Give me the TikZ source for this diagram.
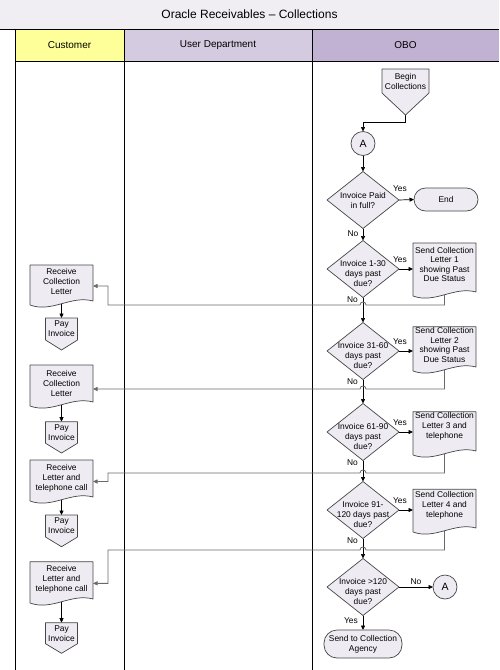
\documentclass[tikz,border=0pt]{standalone}
\usepackage{fontspec}
\setmainfont{Liberation Sans}
\usetikzlibrary{arrows.meta,calc,shapes.geometric}
\pgfdeclarelayer{lanes}
\pgfdeclarelayer{conn}
\pgfdeclarelayer{shapes}
\pgfsetlayers{lanes,conn,shapes,main}

\definecolor{titlebg}{RGB}{240,238,243}
\definecolor{custbg}{RGB}{255,255,153}
\definecolor{udbg}{RGB}{212,203,224}
\definecolor{obobg}{RGB}{193,178,211}
\definecolor{shpfill}{RGB}{238,236,242}
\definecolor{shpline}{RGB}{70,70,70}
\definecolor{xline}{RGB}{105,105,105}

\tikzset{
  every node/.style={font=\fontsize{8.4}{10}\selectfont, inner sep=0pt, outer sep=0pt},
  shp/.style={fill=shpfill, draw=shpline, line width=0.7pt, line join=round},
  box/.style={rectangle, draw=none, fill=none, anchor=north},
  txt/.style={align=center},
  txtS/.style={align=center, font=\fontsize{8.4}{9.6}\selectfont},
  dia/.style={diamond, shp, minimum width=72pt, minimum height=57pt},
  termA/.style={rectangle, shp, rounded corners=11.5pt, minimum width=64pt, minimum height=23pt},
  termB/.style={rectangle, shp, rounded corners=13pt, minimum width=78pt, minimum height=28pt, align=center},
  conc/.style={circle, shp, minimum size=24pt, font=\fontsize{10.5}{12}\selectfont},
  flow/.style={draw=black, line width=0.7pt, -{Triangle[length=4.5pt,width=4pt]}},
  xflow/.style={draw=xline, line width=0.8pt, -{Triangle[length=4.5pt,width=4pt]}},
  lab/.style={font=\fontsize{8.4}{10}\selectfont},
  lane/.style={draw=black, line width=1pt},
  hdr/.style={font=\fontsize{10}{12}\selectfont},
}

% document shape: name, cx, top, w, h, text shift, text, text style
\newcommand\docnode[8]{%
  \node[box, minimum width=#4pt, minimum height=#5pt] (#1) at (#2,#3) {};
  \node[#8] (#1t) at ($(#1.center)+(0,#6)$) {#7};
  \begin{pgfonlayer}{shapes}
  \path[shp] (#1.north west) -- (#1.north east) -- ($(#1.south east)+(0,-6)$)
    .. controls ($(#1.south west)!0.65!(#1.south east)+(0,-12)$)
    and ($(#1.south west)!0.35!(#1.south east)+(0,6)$)
    .. ($(#1.south west)+(0,-2)$) -- cycle;
  \end{pgfonlayer}}

% off-page shape: name, cx, top, w, rect h, tip depth, text
\newcommand\offpage[7]{%
  \node[box, minimum width=#4pt, minimum height=#5pt] (#1) at (#2,#3) {};
  \node[txt] (#1t) at (#1.center) {#7};
  \coordinate (#1-tip) at ($(#1.south)+(0,#6)$);
  \begin{pgfonlayer}{shapes}
  \path[shp] (#1.north west) -- (#1.north east) -- (#1.south east) -- (#1-tip)
    -- (#1.south west) -- cycle;
  \end{pgfonlayer}}

\begin{document}
\begin{tikzpicture}[x=1pt, y=-1pt]
\useasboundingbox (0,0) rectangle (499,670);

% ---------- lanes ----------
\begin{pgfonlayer}{lanes}
  \fill[titlebg] (0,0) rectangle (499,29.5);
  \fill[custbg] (15,29.5) rectangle (124,61);
  \fill[udbg] (124,29.5) rectangle (312,61);
  \fill[obobg] (312,29.5) rectangle (499,61);
  \draw[line width=1.6pt] (0,29.5) -- (499,29.5);
  \draw[lane] (15,61) -- (499,61);
  \draw[lane] (15,29.5) -- (15,670);
  \draw[lane] (124,29.5) -- (124,670);
  \draw[lane] (312,29.5) -- (312,670);
\end{pgfonlayer}

\node[font=\fontsize{12}{14}\selectfont] (title) at (249.5,14) {Oracle Receivables – Collections};
\node[hdr] (hcust) at (69.5,45.5) {Customer};
\node[hdr] (hud) at (218,45.5) {User Department};
\node[hdr] (hobo) at (405.5,45.5) {OBO};

% ---------- OBO lane ----------
\offpage{begin}{405.5}{69}{47}{24}{22}{Begin\\Collections}
\node[conc] (A1) at (363,143.5) {A};

\node[dia] (D1) at (363,200) {};
\node[txt] (D1t) at (363,200.5) {Invoice Paid\\in full?};
\node[termA] (End) at (446,199.5) {End};

\node[dia] (D2) at (363,269) {};
\node[txt] (D2t) at (363,273) {Invoice 1-30\\days past\\due?};
\docnode{S1}{444.5}{243}{63}{55}{-6}{Send Collection\\Letter 1\\showing Past\\Due Status}{txtS}

\node[dia] (D3) at (363,351) {};
\node[txt] (D3t) at (363,355) {Invoice 31-60\\days past\\due?};
\docnode{S2}{444.5}{326.7}{63}{46.3}{-5}{Send Collection\\Letter 2\\showing Past\\Due Status}{txtS}

\node[dia] (D4) at (363,432) {};
\node[txt] (D4t) at (363,436) {Invoice 61-90\\days past\\due?};
\docnode{S3}{444.5}{411.7}{63}{45.3}{-8}{Send Collection\\Letter 3 and\\telephone}{txt}

\node[dia] (D5) at (363,510) {};
\node[txt] (D5t) at (363,514) {Invoice 91-\\120 days past\\due?};
\docnode{S4}{444.5}{489.3}{63}{44.7}{-6.5}{Send Collection\\Letter 4 and\\telephone}{txt}

\node[dia] (D6) at (363,587) {};
\node[txt] (D6t) at (363,591.5) {Invoice >120\\days past\\due?};
\node[conc] (A2) at (445,587) {A};
\node[termB] (Agency) at (363,644) {Send to Collection\\Agency};

% ---------- Customer lane ----------
\docnode{R1}{61.5}{265}{63}{42}{-4.5}{Receive\\Collection\\Letter}{txt}
\offpage{P1}{61.5}{318}{32}{22}{10}{Pay\\Invoice}
\docnode{R2}{61.5}{365}{63}{43}{-3}{Receive\\Collection\\Letter}{txt}
\offpage{P2}{61.5}{421.7}{32}{21.5}{9.8}{Pay\\Invoice}
\docnode{R3}{61.5}{460}{63}{43}{-3.5}{Receive\\Letter and\\telephone call}{txt}
\offpage{P3}{61.5}{515}{32}{22}{9.7}{Pay\\Invoice}
\docnode{R4}{61.5}{561.7}{63}{43.3}{-4.4}{Receive\\Letter and\\telephone call}{txt}
\offpage{P4}{61.5}{622.7}{32}{21}{9.6}{Pay\\Invoice}

% ---------- labels ----------
\node[lab] (y1) at ($(D1.east)+(1,-11.5)$) {Yes};
\node[lab] (n1) at ($(D1.south)+(-10,5)$) {No};
\node[lab] (y2) at ($(D2.east)+(1,-9)$) {Yes};
\node[lab] (n2) at ($(D2.south)+(-10.5,2)$) {No};
\node[lab] (y3) at ($(D3.east)+(1,-9)$) {Yes};
\node[lab] (n3) at ($(D3.south)+(-10.5,2)$) {No};
\node[lab] (y4) at ($(D4.east)+(1,-9)$) {Yes};
\node[lab] (n4) at ($(D4.south)+(-10.5,2)$) {No};
\node[lab] (y5) at ($(D5.east)+(1,-9)$) {Yes};
\node[lab] (n5) at ($(D5.south)+(-10.5,2)$) {No};
\node[lab] (y6) at ($(D6.south)+(-12,5)$) {Yes};

% ---------- connectors ----------
\coordinate (h1) at (363,305);
\coordinate (j1) at (108,305);
\coordinate (h2) at (363,389);
\coordinate (h3) at (363,473);
\coordinate (j3) at (108,473);
\coordinate (h4) at (363,550);
\coordinate (j4) at (108,550);

\begin{pgfonlayer}{conn}
  \draw[flow] (begin-tip) -- ++(0,7.7) -| (A1.north);
  \draw[flow] (A1.south) -- (D1.north);
  \draw[flow] (D1.east) -- (End.west);
  \draw[flow] (D1.south) -- (D2.north);
  \draw[flow] (D2.east) -- (D2.east -| S1.west);
  \draw[flow] (D2.south) -- (D3.north);
  \draw[flow] (D3.east) -- (D3.east -| S2.west);
  \draw[flow] (D3.south) -- (D4.north);
  \draw[flow] (D4.east) -- (D4.east -| S3.west);
  \draw[flow] (D4.south) -- (D5.north);
  \draw[flow] (D5.east) -- (D5.east -| S4.west);
  \draw[flow] (D5.south) -- (D6.north);
  \draw[flow] (D6.east) -- node[lab, above=2.5pt] (n6) {No} (A2.west);
  \draw[flow] (D6.south) -- (Agency.north);

  \draw[xflow] (S1.center) |- ([xshift=3pt]h1) .. controls +(0,-4) and +(0,-4) .. ([xshift=-3pt]h1) -- (j1) |- (R1.east);
  \draw[xflow] (S2.center) |- ([xshift=3pt]h2) .. controls +(0,-4) and +(0,-4) .. ([xshift=-3pt]h2) -- (R2.east |- h2);
  \draw[xflow] (S3.center) |- ([xshift=3pt]h3) .. controls +(0,-4) and +(0,-4) .. ([xshift=-3pt]h3) -- (j3) |- (R3.east);
  \draw[xflow] (S4.center) |- ([xshift=3pt]h4) .. controls +(0,-4) and +(0,-4) .. ([xshift=-3pt]h4) -- (j4) |- (R4.east);

  \draw[flow] (R1.center) -- (P1.north);
  \draw[flow] (R2.center) -- (P2.north);
  \draw[flow] (R3.center) -- (P3.north);
  \draw[flow] (R4.center) -- (P4.north);
\end{pgfonlayer}
\end{tikzpicture}
\end{document}
